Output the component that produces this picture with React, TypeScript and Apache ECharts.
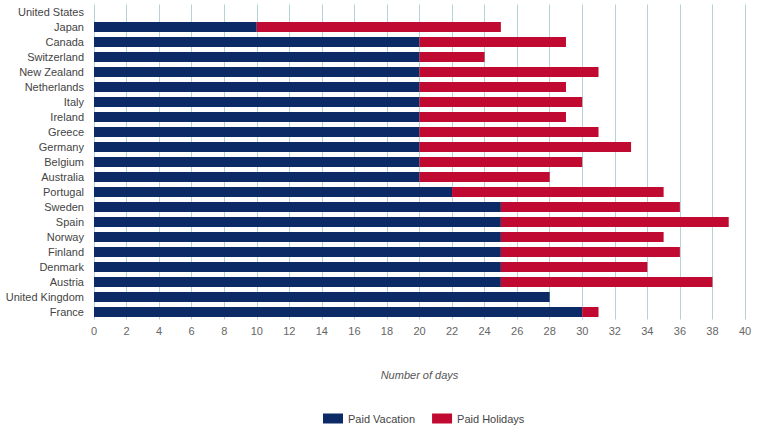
import React, { useEffect, useRef } from 'react';
import * as echarts from 'echarts';

const countries = [
  'United States', 'Japan', 'Canada', 'Switzerland', 'New Zealand', 'Netherlands', 'Italy',
  'Ireland', 'Greece', 'Germany', 'Belgium', 'Australia', 'Portugal', 'Sweden', 'Spain',
  'Norway', 'Finland', 'Denmark', 'Austria', 'United Kingdom', 'France',
];
const paidVacation = [0, 10, 20, 20, 20, 20, 20, 20, 20, 20, 20, 20, 22, 25, 25, 25, 25, 25, 25, 28, 30];
const paidHolidays = [0, 15, 9, 4, 11, 9, 10, 9, 11, 13, 10, 8, 13, 11, 14, 10, 11, 9, 13, 0, 1];

const FONT = '"Liberation Sans", Arial, sans-serif';

const App: React.FC = () => {
  const chartRef = useRef<HTMLDivElement>(null);

  useEffect(() => {
    const myChart = echarts.init(chartRef.current!, undefined, { renderer: 'svg' });

    const option = {
      animation: false,
      textStyle: { fontFamily: FONT },
      grid: { left: 94, right: 23, top: 4.5, bottom: 114.5 },
      legend: {
        data: ['Paid Vacation', 'Paid Holidays'],
        bottom: 5,
        left: 318,
        icon: 'rect',
        itemWidth: 20,
        itemHeight: 10,
        itemGap: 17,
        textStyle: { fontSize: 11, color: '#444', fontFamily: FONT },
      },
      xAxis: {
        type: 'value',
        min: 0,
        max: 40,
        interval: 2,
        name: 'Number of days',
        nameLocation: 'middle',
        nameGap: 50,
        nameTextStyle: { fontSize: 11, fontStyle: 'italic', color: '#555', fontFamily: FONT },
        axisLine: { show: false },
        axisTick: { show: false },
        axisLabel: { fontSize: 11, color: '#666', margin: 6, fontFamily: FONT },
        splitLine: { lineStyle: { color: '#b5d2d6', width: 1 } },
      },
      yAxis: {
        type: 'category',
        data: countries,
        inverse: true,
        axisLine: { show: false },
        axisTick: { show: false },
        axisLabel: { fontSize: 11, color: '#444', margin: 10, fontFamily: FONT },
        splitLine: { show: false },
      },
      series: [
        {
          name: 'Paid Vacation',
          type: 'bar',
          stack: 'days',
          barWidth: 10,
          itemStyle: { color: '#0c2a66' },
          data: paidVacation,
        },
        {
          name: 'Paid Holidays',
          type: 'bar',
          stack: 'days',
          barWidth: 10,
          itemStyle: { color: '#c10a32' },
          data: paidHolidays,
        },
      ],
    };

    myChart.setOption(option);

    return () => {
      myChart.dispose();
    };
  }, []);

  return (
    <div
      ref={chartRef}
      style={{ position: 'absolute', left: 0, top: 0, width: '768px', height: '434px', background: '#fff' }}
    />
  );
};

export default App;
